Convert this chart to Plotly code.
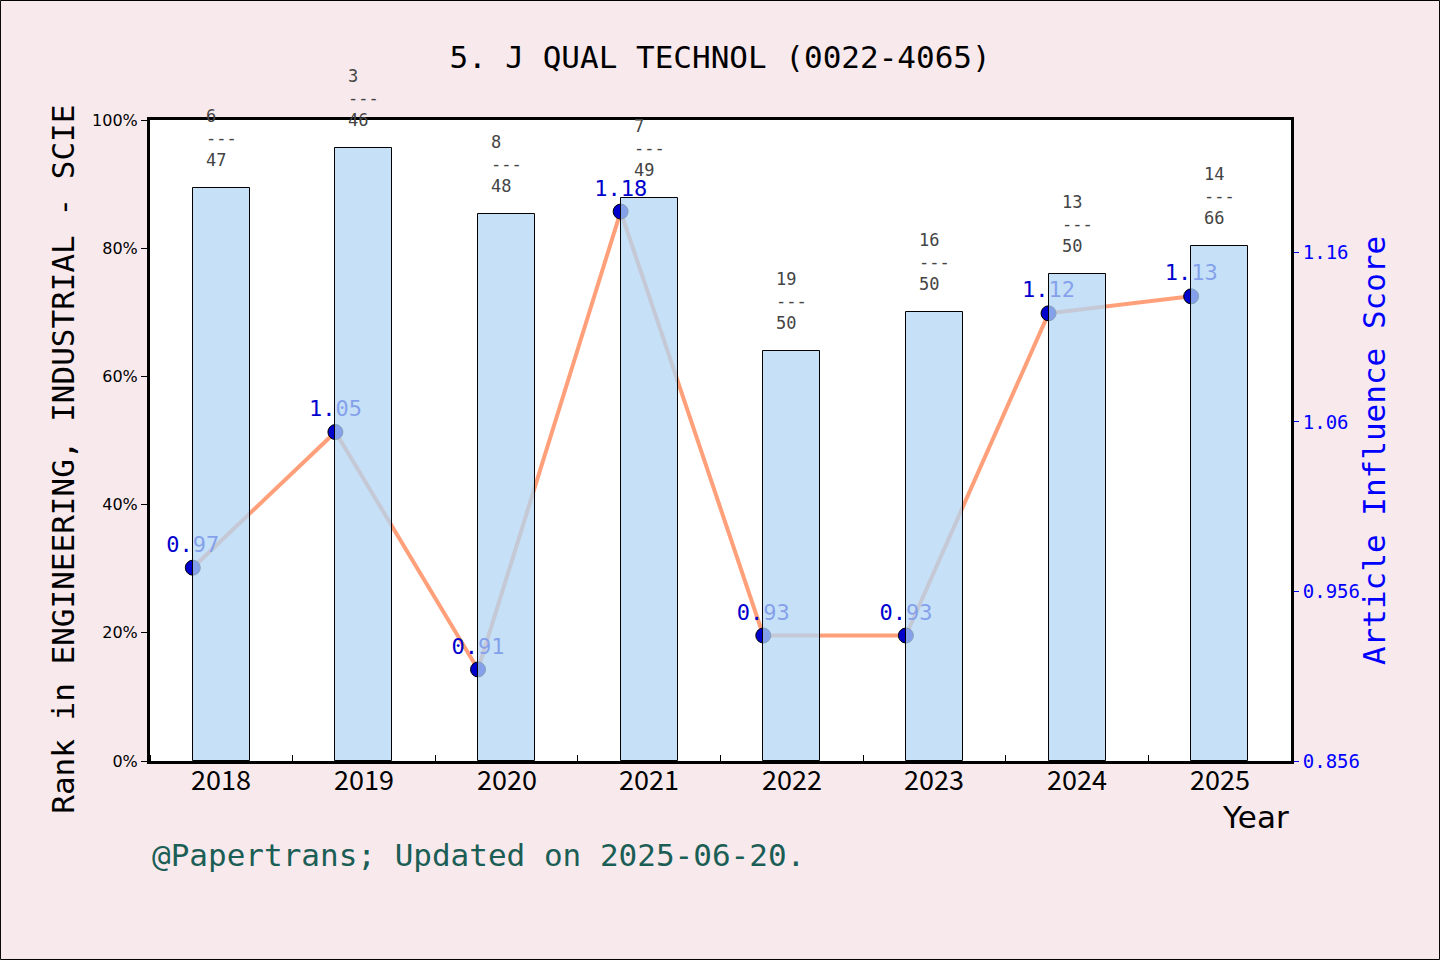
import plotly.graph_objects as go

years = ["2018", "2019", "2020", "2021", "2022", "2023", "2024", "2025"]
rank_pct = [89.4, 95.7, 85.4, 87.8, 64.0, 70.0, 76.0, 80.3]
ranks = [6, 3, 8, 7, 19, 16, 13, 14]
totals = [47, 46, 48, 49, 50, 50, 50, 66]
ais = [0.97, 1.05, 0.91, 1.18, 0.93, 0.93, 1.12, 1.13]
ais_ticks = [0.856, 0.956, 1.056, 1.156]
ais_ticktext = ["0.856", "0.956", "1.06", "1.16"]
pct_ticks = [0, 20, 40, 60, 80, 100]
pct_ticktext = ["0%", "20%", "40%", "60%", "80%", "100%"]

xpos = list(range(len(years)))
line_x = [i - 0.2 for i in xpos]

MONO = "DejaVu Sans Mono"
SANS = "DejaVu Sans"

fig = go.Figure()

# line on base axis (y, right side) so that bars (y2, overlaying) draw above it
fig.add_trace(go.Scatter(
    x=line_x, y=ais, mode="lines+markers+text",
    line=dict(color="#FFA07A", width=4),
    marker=dict(size=15, color="#0000CD", line=dict(color="black", width=1)),
    text=[f"{v:.2f}" for v in ais], textposition="top center",
    textfont=dict(family=MONO, size=22, color="#0000CD"),
    yaxis="y", xaxis="x", showlegend=False, cliponaxis=False,
))

fig.add_trace(go.Bar(
    x=xpos, y=rank_pct, width=0.4,
    marker=dict(color="rgba(178,213,244,0.75)", line=dict(color="black", width=1)),
    yaxis="y2", xaxis="x", showlegend=False,
))

annotations = []
for i, (r, t, p) in enumerate(zip(ranks, totals, rank_pct)):
    annotations.append(dict(
        x=i, y=p, xref="x", yref="y2", text=f"{r}<br>---<br>{t}",
        showarrow=False, xanchor="center", yanchor="bottom", align="left",
        yshift=16, font=dict(family=MONO, size=17, color="#444444"),
    ))

for i, yr in enumerate(years):
    annotations.append(dict(
        x=i, y=0, xref="x", yref="paper", text=yr, showarrow=False,
        xanchor="center", yanchor="middle", yshift=-17,
        font=dict(family="Noto Sans CJK SC", size=27, color="black"),
    ))

annotations.append(dict(
    x=1, y=-0.087, xref="paper", yref="paper", text="Year", showarrow=False,
    xanchor="right", yanchor="middle", font=dict(family=SANS, size=31, color="black"),
))
annotations.append(dict(
    x=0, y=-0.146, xref="paper", yref="paper", text="@Papertrans; Updated on 2025-06-20.",
    showarrow=False, xanchor="left", yanchor="middle",
    font=dict(family=MONO, size=31, color="#1B5E55"),
))
annotations.append(dict(
    x=-0.0762, y=0.47, xref="paper", yref="paper", text="Rank in ENGINEERING, INDUSTRIAL - SCIE",
    showarrow=False, textangle=-90, xanchor="center", yanchor="middle",
    font=dict(family=MONO, size=31, color="black"),
))
annotations.append(dict(
    x=1.0727, y=0.485, xref="paper", yref="paper", text="Article Influence Score",
    showarrow=False, textangle=-90, xanchor="center", yanchor="middle",
    font=dict(family=MONO, size=31, color="#0000FF"),
))

W, H = 1440, 960
L, R, T, B = 150, 149, 120, 199
pw, ph = W - L - R, H - T - B

fig.update_layout(
    width=W, height=H,
    margin=dict(l=L, r=R, t=T, b=B, pad=0),
    paper_bgcolor="#F8E9EC", plot_bgcolor="white",
    title=dict(text="5. J QUAL TECHNOL (0022-4065)", x=0.5, xanchor="center",
               y=1 - 57 / H, yanchor="middle", yref="container",
               font=dict(family=MONO, size=31, color="black")),
    xaxis=dict(range=[-0.5, 7.5], tickvals=xpos, showticklabels=False, ticks="",
               showline=True, linecolor="black", linewidth=3, mirror=True,
               showgrid=False, zeroline=False,
               minor=dict(ticks="inside", tick0=0.5, dtick=1, ticklen=6,
                          tickcolor="black", tickwidth=1, showgrid=False)),
    yaxis=dict(range=[0.856, 1.234], side="right", tickvals=ais_ticks, ticktext=ais_ticktext,
               ticks="outside", ticklen=5, tickcolor="#0000FF",
               tickfont=dict(family=MONO, size=19, color="#0000FF"),
               showline=True, linecolor="black", linewidth=3,
               showgrid=False, zeroline=False),
    yaxis2=dict(range=[0, 100], side="left", overlaying="y", tickvals=pct_ticks,
                ticktext=pct_ticktext, ticks="outside", ticklen=6, tickcolor="black",
                tickfont=dict(family=SANS, size=16, color="black"),
                showline=True, linecolor="black", linewidth=3,
                showgrid=False, zeroline=False),
    annotations=annotations,
    shapes=[dict(type="rect", xref="paper", yref="paper",
                 x0=-L / pw + 0.0004, x1=1 + R / pw - 0.0004,
                 y0=-B / ph + 0.0008, y1=1 + T / ph - 0.0008,
                 line=dict(color="black", width=1), layer="below")],
    bargap=0,
)

fig.write_html("out.html")
